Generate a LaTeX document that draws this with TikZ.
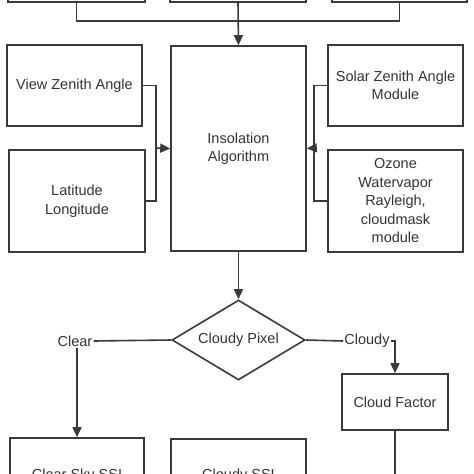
\documentclass[tikz,border=0pt]{standalone}
\usepackage{fontspec}
\setmainfont{Liberation Sans}
\usetikzlibrary{shapes.geometric,arrows.meta}
\definecolor{ln}{HTML}{3A3A3A}
\definecolor{tx}{HTML}{333333}
\tikzset{
  box/.style={draw=ln, line width=1.6pt, rectangle, inner sep=0pt, align=center, text=tx,
    font=\fontsize{14.5}{18.5}\selectfont},
  lbl/.style={inner sep=1pt, text=tx, font=\fontsize{14.5}{18.5}\selectfont},
  conn/.style={draw=ln, line width=1.6pt},
  arr/.style={conn, -{Triangle[length=10pt,width=9pt]}},
}
\begin{document}
\begin{tikzpicture}[x=1pt,y=-1pt]
\useasboundingbox (0,0) rectangle (474,474);
\clip (0,0) rectangle (474,474);
\fill[white] (0,0) rectangle (474,474);
% top row (cut off)
\node[box, minimum width=137pt, minimum height=62pt] (top1) at (76.5,-29) {};
\node[box, minimum width=136pt, minimum height=62pt] (top2) at (238,-29) {};
\node[box, minimum width=135pt, minimum height=62pt] (top3) at (399.5,-29) {};
% second row
\node[box, minimum width=135pt, minimum height=81pt] (vza) at (74.5,85.5) {View Zenith Angle};
\node[box, minimum width=136pt, minimum height=102pt] (latlon) at (77,201) {Latitude\\Longitude};
\node[box, minimum width=135pt, minimum height=205pt] (ins) at (238.5,148.5) {Insolation\\Algorithm};
\node[box, minimum width=135pt, minimum height=81pt] (sza) at (395.5,85.5) {Solar Zenith Angle\\Module};
\node[box, minimum width=135pt, minimum height=102pt] (ozone) at (395.5,201) {Ozone\\Watervapor\\Rayleigh,\\cloudmask\\module};
% decision
\node[box, diamond, aspect=1.66, minimum width=133pt, minimum height=80pt] (dec) at (238.5,340) {Cloudy Pixel};
\node[lbl] (clear) at (75,341) {Clear};
\node[lbl] (cloudy) at (367,341) {Cloudy};
\node[box, minimum width=106pt, minimum height=56pt] (cf) at (395,402) {Cloud Factor};
% bottom row (cut off)
\node[box, minimum width=134pt, minimum height=76pt] (csky) at (77,476) {Clear Sky SSI};
\node[box, minimum width=135pt, minimum height=74pt] (cssi) at (238.5,476) {Cloudy SSI};
\coordinate (cfend) at (395,480);
% connectors
\coordinate (j) at (238,21);
\draw[conn] (top1.south) |- (j) -| (top3.south);
\draw[arr] (top2.south) -- (ins.north);
\coordinate (mL) at (156,148);
\coordinate (mR) at (314,148);
\draw[conn] (vza.east) -| (mL);
\draw[conn] (latlon.east) -| (mL);
\draw[arr] (mL) -- (ins.west);
\draw[conn] (sza.west) -| (mR);
\draw[conn] (ozone.west) -| (mR);
\draw[arr] (mR) -- (ins.east);
\draw[arr] (ins.south) -- (dec.north);
\draw[conn] (dec.west) -- (clear.east);
\draw[arr] (clear.south -| csky.north) -- (csky.north);
\draw[conn] (dec.east) -- (cloudy.west);
\draw[arr] (cloudy.east) -| (cf.north);
\draw[conn] (cf.south) -- (cfend);
\end{tikzpicture}
\end{document}
